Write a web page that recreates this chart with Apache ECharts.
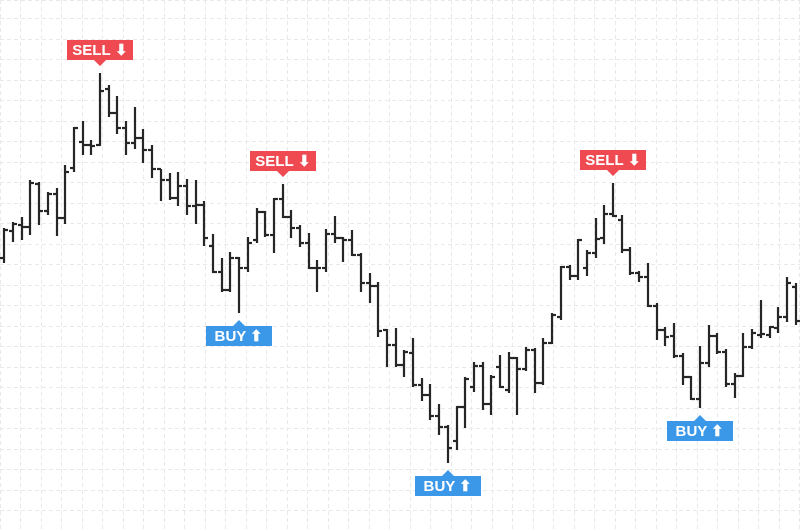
<!DOCTYPE html>
<html>
<head>
<meta charset="utf-8">
<script src="https://cdn.jsdelivr.net/npm/echarts@6/dist/echarts.min.js"></script>
<style>html,body{margin:0;padding:0;background:#fff}#c{width:800px;height:531px}</style>
</head>
<body>
<div id="c"></div>
<script>
// OHLC bar data (price units), one entry per session
const opens  = [273,300,306,304,347,320,337,313,363,389,386,386,442,418,403,388,393,381,362,351,333,345,325,326,285,259,241,273,263,291,319,296,332,314,303,288,263,263,297,293,291,276,248,245,201,186,166,178,146,136,115,104,90,124,144,165,127,164,141,173,162,181,148,188,214,264,255,263,278,293,317,311,281,258,254,225,201,195,175,154,132,168,195,179,147,155,184,196,196,203,214,244];
const closes = [301,307,304,348,320,337,313,359,403,386,385,440,418,403,388,393,381,362,351,333,345,325,326,293,259,241,273,263,288,319,296,332,314,303,288,263,263,297,293,291,276,248,245,200,186,166,179,146,136,115,104,83,124,152,165,127,154,144,173,162,181,148,188,216,264,255,291,278,292,317,315,281,258,254,225,201,194,175,154,132,168,195,179,147,155,184,198,197,204,214,248,210];
const lows   = [268,289,291,296,306,316,295,307,359,376,376,385,414,397,376,382,368,353,330,331,325,316,307,285,258,239,239,218,259,288,294,278,313,293,284,262,239,259,288,269,275,239,228,194,164,164,154,144,130,111,96,68,81,103,139,121,116,143,138,116,160,138,146,187,211,251,251,255,273,287,314,278,256,249,224,191,185,173,146,131,123,164,177,144,133,154,182,193,193,198,209,206];
const highs  = [303,309,314,351,349,339,343,366,404,410,391,458,446,435,410,424,402,386,362,358,359,352,351,330,297,273,279,274,294,323,320,333,347,321,306,298,271,302,315,294,301,278,258,249,202,203,181,193,153,147,127,106,125,154,169,169,156,176,179,174,184,183,193,218,265,266,292,281,313,326,348,316,284,260,268,228,204,208,178,155,185,206,198,182,158,198,202,231,205,224,254,248];
const sessions = opens.map((_, i) => 'D' + (i + 1));
// signal markers: session index and type
const sellIdx = [11, 32, 70];
const buyIdx  = [27, 51, 80];
const sellText = 'SELL \u2B07';
const buyText  = 'BUY \u2B06';

const ohlc = opens.map((o, i) => [i, o, closes[i], lows[i], highs[i]]);
const signalData = sellIdx.map(i => [i, highs[i], 1]).concat(buyIdx.map(i => [i, lows[i], -1]));

const chart = echarts.init(document.getElementById('c'), null, {renderer: 'canvas'});
const barColor = '#262626';
const gridLine = {show: true, lineStyle: {color: '#e9e9e9', type: [4, 3], width: 1}};
const SELL_COLOR = '#ef4a52';
const BUY_COLOR = '#3b98e8';

chart.setOption({
  animation: false,
  backgroundColor: '#ffffff',
  grid: {left: 0, right: 0, top: 0, bottom: 0},
  xAxis: [
    {type: 'category', data: sessions, boundaryGap: true, show: false},
    {type: 'value', min: 0, max: 800, interval: 20.5, axisLine: {show: false}, axisTick: {show: false}, axisLabel: {show: false}, splitLine: gridLine}
  ],
  yAxis: [
    {type: 'value', min: 0, max: 531, interval: 20.5, axisLine: {show: false}, axisTick: {show: false}, axisLabel: {show: false}, splitLine: gridLine}
  ],
  series: [
    {
      type: 'custom',
      xAxisIndex: 0,
      yAxisIndex: 0,
      data: ohlc,
      encode: {x: 0, y: [1, 2, 3, 4]},
      renderItem: function (params, api) {
        const i = api.value(0);
        const o = api.coord([i, api.value(1)]);
        const c = api.coord([i, api.value(2)]);
        const l = api.coord([i, api.value(3)]);
        const h = api.coord([i, api.value(4)]);
        const x = Math.round(h[0]);
        const st = {stroke: barColor, lineWidth: 2.2, lineCap: 'butt'};
        return {
          type: 'group',
          children: [
            {type: 'line', shape: {x1: x, y1: h[1], x2: x, y2: l[1]}, style: st},
            {type: 'line', shape: {x1: x - 4, y1: o[1], x2: x, y2: o[1]}, style: st},
            {type: 'line', shape: {x1: x, y1: c[1], x2: x + 4, y2: c[1]}, style: st}
          ]
        };
      },
      z: 5
    },
    {
      type: 'custom',
      xAxisIndex: 0,
      yAxisIndex: 0,
      data: signalData,
      encode: {x: 0, y: 1},
      renderItem: function (params, api) {
        const dir = api.value(2);
        const p = api.coord([api.value(0), api.value(1)]);
        const cx = Math.round(p[0]);
        const w = 33, bh = 20, ph = 6, gap = 7;
        let pts, cy;
        if (dir > 0) {
          const apex = p[1] - gap;
          const bot = apex - ph;
          const top = bot - bh;
          pts = [[cx - w, top], [cx + w, top], [cx + w, bot], [cx + 6, bot], [cx, apex], [cx - 6, bot], [cx - w, bot]];
          cy = (top + bot) / 2;
        } else {
          const apex = p[1] + gap;
          const top = apex + ph;
          const bot = top + bh;
          pts = [[cx - w, top], [cx - 6, top], [cx, apex], [cx + 6, top], [cx + w, top], [cx + w, bot], [cx - w, bot]];
          cy = (top + bot) / 2;
        }
        return {
          type: 'group',
          children: [
            {type: 'polygon', shape: {points: pts}, style: {fill: dir > 0 ? SELL_COLOR : BUY_COLOR}},
            {type: 'text', style: {text: dir > 0 ? sellText : buyText, x: cx, y: cy + 1, align: 'center', verticalAlign: 'middle', fill: '#ffffff', font: 'bold 15px "Liberation Sans", Arial, sans-serif'}}
          ]
        };
      },
      z: 10
    }
  ]
});
</script>
</body>
</html>
